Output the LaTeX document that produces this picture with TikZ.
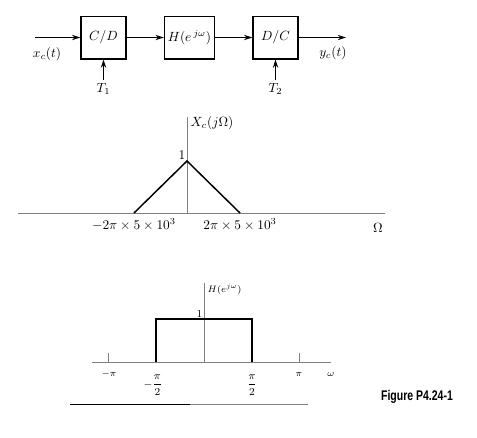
\documentclass[tikz,border=0pt]{standalone}
\usepackage{fontspec}
\newfontfamily\figfont{Liberation Sans}[FakeStretch=0.75]
\usetikzlibrary{positioning,arrows.meta}

\begin{document}
\begin{tikzpicture}[x=0.75pt, y=-0.75pt,
  node distance=9.8mm,
  blk/.style={draw, line width=1pt, minimum width=33.75pt, minimum height=32pt,
              inner sep=1pt, font=\normalsize},
  sig/.style={-{Stealth[length=2.2mm, width=1.4mm]}, line width=1pt},
  ax/.style={gray, line width=0.5pt},
  plt/.style={line width=1.1pt, line join=miter},
  lbl/.style={font=\normalsize, inner sep=1pt},
  small/.style={font=\scriptsize, inner sep=1pt}]
\useasboundingbox (0,0) rectangle (477,437);
% sampling system
\node[blk] (cd) at (103.5,37.5) {$C/D$};
\node[blk, minimum width=37.5pt, right=of cd] (filt) {$H(e^{\,j\omega})$};
\node[blk, right=of filt] (dc) {$D/C$};
\coordinate (xin) at (35,37.5);
\coordinate (yout) at (346,37.5);
\coordinate (t1) at (cd.south |- 0,80);
\coordinate (t2) at (dc.south |- 0,80);
\draw[sig] (xin) -- (cd);
\draw[sig] (cd) -- (filt);
\draw[sig] (filt) -- (dc);
\draw[sig] (dc) -- (yout);
\draw[sig] (t1) -- (cd.south);
\draw[sig] (t2) -- (dc.south);
\node[lbl] (xlab) at (47,54) {$x_c(t)$};
\node[lbl] (ylab) at (333,53) {$y_c(t)$};
\node[lbl, below=0.5mm of t1] (t1lab) {$T_1$};
\node[lbl, below=0.5mm of t2] (t2lab) {$T_2$};
% input spectrum
\coordinate (o1) at (187,213);
\draw[ax] (18,213) -- (385,213);
\draw[ax] (o1) -- (187,117);
\coordinate (pk) at (187,161);
\coordinate (lb) at (134,213);
\coordinate (rb) at (240,213);
\draw[plt] (lb) -- (pk) -- (rb);
\node[lbl, anchor=south east] (one1) at (pk) {1};
\node[lbl, anchor=west] (xclab) at (189,123) {$X_c(j\Omega)$};
\node[lbl, below=1mm of lb] {$-2\pi\times5\times10^3$};
\node[lbl, below=1mm of rb] {$2\pi\times5\times10^3$};
\node[lbl] (omlab) at (378,228) {$\Omega$};
% ideal lowpass
\coordinate (o2) at (204,362);
\draw[ax] (92,362) -- (331,362);
\draw[ax] (o2) -- (204,283);
\draw[ax] (108,362) -- (108,353);
\draw[ax] (299,362) -- (299,353);
\draw[plt] (156,362) -- (156,319) -- (252,319) -- (252,362);
\node[font=\footnotesize, inner sep=1pt, anchor=south east] (one2) at (204,319) {1};
\node[small, anchor=west] (hlab) at (206,289) {$H(e^{j\omega})$};
\node[small] at (109,374) {$-\pi$};
\node[font=\footnotesize, inner sep=1pt] at (153,385) {$-\displaystyle\frac{\pi}{2}$};
\node[font=\footnotesize, inner sep=1pt] at (252,385) {$\displaystyle\frac{\pi}{2}$};
\node[small] at (299,374) {$\pi$};
\node[small] at (331,374) {$\omega$};
\draw[line width=0.6pt] (70,404) -- (190,404);
\draw[gray, line width=0.6pt] (190,404) -- (308,404);
\node[font=\figfont\bfseries\fontsize{10.5}{12}\selectfont] (fig) at (417,397) {Figure P4.24-1};
\end{tikzpicture}
\end{document}
